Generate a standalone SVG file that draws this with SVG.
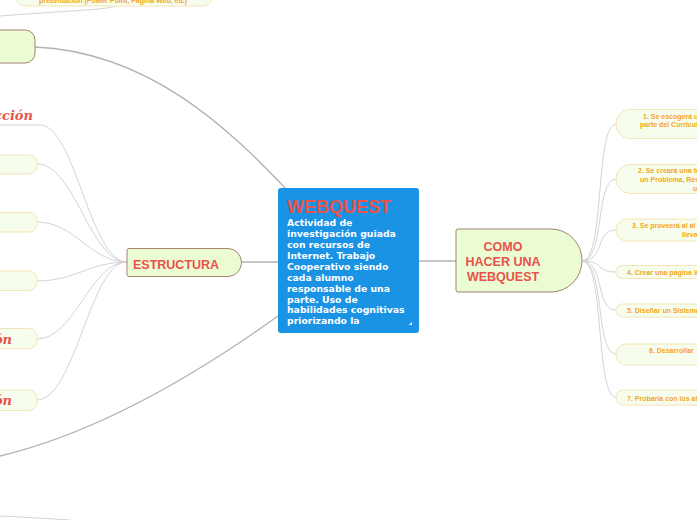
<svg xmlns="http://www.w3.org/2000/svg" width="697" height="520" viewBox="0 0 697 520">
<style>
.main{fill:none;stroke:#b3b3b3;stroke-width:1.3}
.sub{fill:none;stroke:#d4d4d4;stroke-width:1}
.box{fill:#ebfcd2;stroke:#a58373;stroke-width:1}
.leaf{fill:#f7fdec;stroke:#f3e4b8;stroke-width:1}
.red{fill:#e8524a;font-family:"Liberation Sans",Arial,sans-serif;font-weight:bold}
.script{fill:#e8524a;font-family:"DejaVu Serif",serif;font-weight:bold;font-style:italic;font-size:13px}
.or{fill:#f5a623;font-family:"Liberation Sans",Arial,sans-serif;font-weight:bold;font-size:7px}
.body{fill:#ffffff;font-family:"DejaVu Sans",Verdana,sans-serif;font-weight:bold;font-size:9.3px}
</style>
<rect width="697" height="520" fill="#ffffff"/>
<g id="connectors">
<path class="main" d="M35,47 C150,52 230,130 287,190"/>
<path class="main" d="M278,316 C200,372 100,432 0,456"/>
<path class="sub" d="M0,516 Q40,518 70,520"/>
<path class="sub" d="M0,16 C50,12 100,10 113,7 Q116,6 116,4"/>
<path class="main" d="M241,262 L278,262"/>
<path class="main" d="M419,261 L456,261"/>
<path class="sub" d="M0,125 L40,125 C75,125 90,262 127,262"/>
<path class="sub" d="M37,164 C75,164 90,262 127,262"/>
<path class="sub" d="M37,222 C75,222 90,262 127,262"/>
<path class="sub" d="M37,281 C75,281 90,262 127,262"/>
<path class="sub" d="M37,339 C75,339 90,262 127,262"/>
<path class="sub" d="M37,400 C75,400 90,262 127,262"/>
<path class="sub" d="M582,261 C605,261 595,124 616,124"/>
<path class="sub" d="M582,261 C605,261 595,179 616,179"/>
<path class="sub" d="M582,261 C605,261 595,230 616,230"/>
<path class="sub" d="M582,261 C605,261 595,272 616,272"/>
<path class="sub" d="M582,261 C605,261 595,310 616,310"/>
<path class="sub" d="M582,261 C605,261 595,354 616,354"/>
<path class="sub" d="M582,261 C605,261 595,397 616,397"/>
</g>
<g id="node-top">
<rect class="leaf" x="16" y="-20" width="196" height="26" rx="9"/>
<text class="or" x="113" y="3" text-anchor="middle" font-size="7.5">presentación (Power Point, Página Web, etc)</text>
</g>
<g id="node-left-top">
<path class="box" d="M-10,30 H25 A10,10 0 0 1 35,40 V53 A10,10 0 0 1 25,63 H-10 Z"/>
</g>
<g id="node-webquest">
<rect x="278" y="188" width="141" height="145" rx="3" fill="#1a93e5"/>
<text class="red" x="287" y="213" font-size="18">WEBQUEST</text>
<text class="body" x="287" y="226">Actividad de</text>
<text class="body" x="287" y="237">investigación guiada</text>
<text class="body" x="287" y="248">con recursos de</text>
<text class="body" x="287" y="259">Internet. Trabajo</text>
<text class="body" x="287" y="270">Cooperativo siendo</text>
<text class="body" x="287" y="280.5">cada alumno</text>
<text class="body" x="287" y="291.5">responsable de una</text>
<text class="body" x="287" y="302.5">parte. Uso de</text>
<text class="body" x="287" y="313">habilidades cognitivas</text>
<text class="body" x="287" y="324">priorizando la</text>
<path d="M409,325 L412,322 L412,325 Z" fill="#ffffff"/>
</g>
<g id="node-estructura">
<path class="box" d="M129,248.5 H228 A13.5,14 0 0 1 241.5,262.5 A13.5,14 0 0 1 228,276.5 H129 A2,2 0 0 1 127,274.5 V250.5 A2,2 0 0 1 129,248.5 Z"/>
<text class="red" x="133" y="269" font-size="12.5">ESTRUCTURA</text>
</g>
<g id="node-como">
<path class="box" d="M458,229 H551 A31,31.5 0 0 1 551,292 H458 A2,2 0 0 1 456,290 V231 A2,2 0 0 1 458,229 Z"/>
<text class="red" x="503" y="251" font-size="12.5" text-anchor="middle">COMO</text>
<text class="red" x="503" y="266" font-size="12.5" text-anchor="middle">HACER UNA</text>
<text class="red" x="503" y="280.5" font-size="12.5" text-anchor="middle">WEBQUEST</text>
</g>
<g id="node-l1">
<text class="script" x="33" y="120" text-anchor="end">cción</text>
</g>
<g id="node-l2"><rect class="leaf" x="-20" y="155" width="57" height="19" rx="8"/></g>
<g id="node-l3"><rect class="leaf" x="-20" y="212.5" width="57" height="19.5" rx="8"/></g>
<g id="node-l4"><rect class="leaf" x="-20" y="271" width="57" height="19.5" rx="8"/></g>
<g id="node-l5"><rect class="leaf" x="-20" y="328.5" width="57" height="20" rx="8"/><text class="script" x="12" y="343.5" text-anchor="end">ón</text></g>
<g id="node-l6"><rect class="leaf" x="-20" y="390" width="57" height="20.5" rx="8"/><text class="script" x="12" y="405" text-anchor="end">ón</text></g>
<g id="node-r1"><rect class="leaf" x="616" y="109.5" width="110" height="29" rx="14"/><text class="or" x="643" y="118.5">1. Se escogerá u</text><text class="or" x="640" y="127">parte del Curricul</text></g>
<g id="node-r2"><rect class="leaf" x="616" y="164.5" width="110" height="29" rx="14"/><text class="or" x="638" y="173">2. Se creará una ta</text><text class="or" x="640" y="182">un Problema, Res</text><text class="or" x="693" y="190.5">u</text></g>
<g id="node-r3"><rect class="leaf" x="616" y="219" width="110" height="22" rx="11"/><text class="or" x="632" y="227.5">3. Se proveerá al al</text><text class="or" x="682" y="236.5">lleva</text></g>
<g id="node-r4"><rect class="leaf" x="616" y="265.5" width="110" height="13" rx="6.5"/><text class="or" x="627" y="274.5">4. Crear una página W</text></g>
<g id="node-r5"><rect class="leaf" x="616" y="304" width="110" height="13" rx="6.5"/><text class="or" x="627" y="313">5. Diseñar un Sistema</text></g>
<g id="node-r6"><rect class="leaf" x="616" y="344" width="110" height="21" rx="10.5"/><text class="or" x="649" y="353">6. Desarrollar</text></g>
<g id="node-r7"><rect class="leaf" x="616" y="390" width="110" height="15" rx="7.5"/><text class="or" x="627" y="400.5">7. Probarla con los al</text></g>
</svg>
